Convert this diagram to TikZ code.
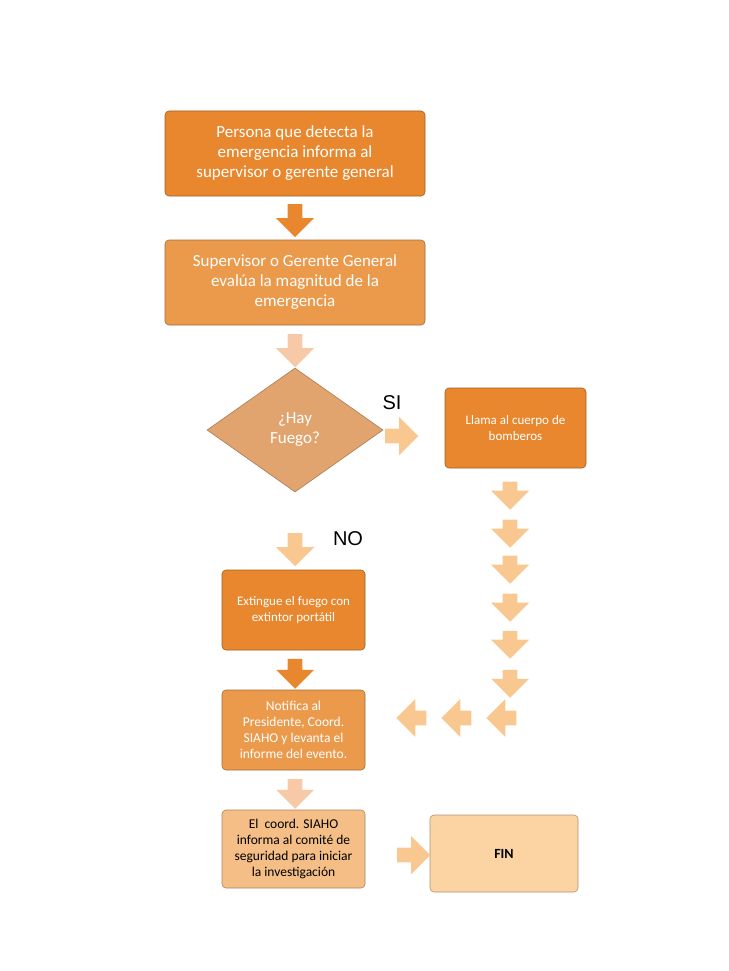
\documentclass[tikz,border=0pt]{standalone}
\usepackage{fontspec}
\setmainfont{Carlito}
\newfontfamily\arial{Liberation Sans}
\usetikzlibrary{shapes.geometric,shapes.arrows}
\definecolor{dk}{HTML}{E8872E}
\definecolor{md}{HTML}{EB9A4C}
\definecolor{tan}{HTML}{E2A46E}
\definecolor{lt}{HTML}{F4BE86}
\definecolor{fin}{HTML}{FCD3A2}
\definecolor{pa}{HTML}{F8C9A6}
\definecolor{la}{HTML}{F9C890}
\tikzset{
 box/.style={rounded corners=4pt,draw=#1!70!black,line width=0.6pt,fill=#1,text=white,align=center,inner sep=2pt},
 arr/.style={single arrow,fill=#1,draw=none,minimum width=38pt,single arrow head extend=8pt,single arrow tip angle=90,inner sep=5pt,minimum height=33pt},
 lbl/.style={font=\arial\fontsize{20}{22}\selectfont},
}
\begin{document}
\begin{tikzpicture}[x=1pt,y=-1pt]
\useasboundingbox (0,0) rectangle (728,971);
\node[box=dk,minimum width=260pt,minimum height=85pt,font=\fontsize{17}{20}\selectfont] (b1) at (295,153.5) {Persona que detecta la\\emergencia informa al\\supervisor o gerente general};
\node[box=md,minimum width=260pt,minimum height=85pt,font=\fontsize{17}{20}\selectfont] (b2) at (295,282.5) {Supervisor o Gerente General\\evalúa la magnitud de la\\emergencia};
\node[diamond,draw=tan!75!black,line width=0.6pt,fill=tan,text=white,minimum width=176pt,minimum height=124pt,inner sep=0pt,font=\fontsize{17}{20}\selectfont,align=center] (d) at (295,430) {¿Hay\\Fuego?};
\node[box=dk,minimum width=141pt,minimum height=80pt,font=\fontsize{13}{16}\selectfont] (b4) at (515.5,428) {Llama al cuerpo de\\bomberos};
\node[box=dk,minimum width=143pt,minimum height=80pt,font=\fontsize{13}{16}\selectfont] (b5) at (293.5,610) {Extingue el fuego con\\extintor portátil};
\node[box=md,minimum width=143pt,minimum height=80pt,font=\fontsize{13.5}{16}\selectfont] (b6) at (293.5,730) {Notifica al\\Presidente, Coord.\\SIAHO y levanta el\\informe del evento.};
\node[box=lt,text=black,minimum width=143pt,minimum height=78pt,font=\fontsize{13.5}{16}\selectfont] (b7) at (293.5,849) {El~ coord. SIAHO\\informa al comité de\\seguridad para iniciar\\la investigación};
\node[box=fin,text=black,minimum width=148pt,minimum height=77pt,font=\fontsize{14}{16}\selectfont\bfseries] (b8) at (504,853.5) {FIN};
\node[lbl] (si) at (392,403) {SI};
\node[lbl] (no) at (348,539) {NO};
% arrows
\node[arr=dk,rotate=-90] (a1) at (295,217) {};
\node[arr=pa,rotate=-90] (a2) at (295,347) {};
\node[arr=la,rotate=0] (a3) at (398,436) {};
\node[arr=la,rotate=-90] (a4) at (295,546) {};
\node[arr=dk,rotate=-90,minimum height=30pt] (a5) at (295,670) {};
\node[arr=pa,rotate=-90,minimum height=30pt] (a6) at (295,790) {};
\node[arr=la,rotate=0] (a7) at (410,855) {};
\foreach \y [count=\i] in {492,530,566,604,641,680}{
 \node[arr=la,rotate=-90,minimum height=28pt] (r\i) at (510,\y) {};}
\foreach \x [count=\i] in {505,460,415}{
 \node[arr=la,rotate=180,minimum height=30pt] (l\i) at (\x,718) {};}
\end{tikzpicture}
\end{document}
